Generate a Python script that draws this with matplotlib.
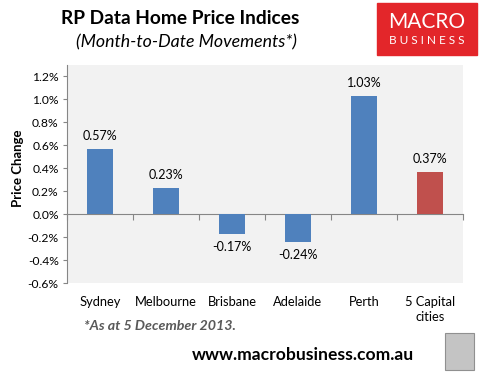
import numpy as np
import matplotlib
matplotlib.use('Agg')
import matplotlib.pyplot as plt
from matplotlib.patches import Rectangle
import matplotlib.transforms as mtransforms

plt.rcParams['font.family'] = ['Lato', 'DejaVu Sans']

cities = ['Sydney', 'Melbourne', 'Brisbane', 'Adelaide', 'Perth', '5 Capital\ncities']
changes = [0.57, 0.23, -0.17, -0.24, 1.03, 0.37]
bar_colors = ['#4F81BD'] * 5 + ['#C0504D']
yticks = [-0.6, -0.4, -0.2, 0.0, 0.2, 0.4, 0.6, 0.8, 1.0, 1.2]

W, H = 482, 373
fig = plt.figure(figsize=(W / 100, H / 100), dpi=100)

def px(x0, y0, x1, y1):
    # pixel box (top-left origin) -> figure fraction rect
    return [x0 / W, 1 - y1 / H, (x1 - x0) / W, (y1 - y0) / H]

ax = fig.add_axes(px(67, 65, 463, 283))
ax.set_facecolor('#F2F2F2')
x = np.arange(len(cities))
ax.bar(x, changes, width=0.4, color=bar_colors, zorder=3)

ax.set_xlim(-0.5, len(cities) - 0.5)
ax.set_ylim(-0.6, 1.3)
ax.set_yticks(yticks)
ax.set_yticklabels([f'{v:.1f}%' for v in yticks], fontsize=8.7)
ax.tick_params(axis='y', length=3, color='#868686', pad=3)

for s in ['top', 'right']:
    ax.spines[s].set_visible(False)
ax.spines['left'].set_color('#868686')
ax.spines['left'].set_bounds(-0.6, 1.3)
ax.spines['bottom'].set_position(('data', 0))
ax.spines['bottom'].set_color('#868686')
ax.set_xticks(np.arange(-0.5, len(cities), 1.0))
ax.set_xticklabels([])
ax.tick_params(axis='x', length=4, color='#868686', direction='out')

trans = mtransforms.blended_transform_factory(ax.transData, ax.transAxes)
for i, c in enumerate(cities):
    ax.text(i, -0.058, c, transform=trans, ha='center', va='top', fontsize=9.3,
            linespacing=1.35)

for i, v in enumerate(changes):
    if v >= 0:
        ax.annotate(f'{v:.2f}%', (i, v), xytext=(0, 5), textcoords='offset points',
                    ha='center', va='bottom', fontsize=9)
    else:
        ax.annotate(f'{v:.2f}%', (i, v), xytext=(0, -5), textcoords='offset points',
                    ha='center', va='top', fontsize=9)

fig.text(18 / W, 1 - 168 / H, 'Price Change', rotation=90, ha='center', va='center',
         fontsize=9.5, fontweight='bold')

fig.text(180 / W, 1 - 18 / H, 'RP Data Home Price Indices', ha='center', va='center',
         fontsize=13.8, fontweight='bold')
fig.text(187 / W, 1 - 42 / H, '(Month-to-Date Movements*)', ha='center', va='center',
         fontsize=12.8, fontstyle='italic')

fig.text(84 / W, 1 - 326 / H, '*As at 5 December 2013.', ha='left', va='center',
         fontsize=10.3, fontstyle='italic', fontweight='bold', color='#595959')
fig.text(303 / W, 1 - 355 / H, 'www.macrobusiness.com.au', ha='center', va='center',
         fontsize=12.6, fontweight='bold')

# logo
fig.patches.append(Rectangle((377 / W, 1 - 55 / H), 100 / W, 52 / H,
                             transform=fig.transFigure, color='#E3262A'))
fig.text(427 / W, 1 - 22 / H, 'MACRO', ha='center', va='center', fontsize=15,
         color='white')
fig.text(427 / W, 1 - 41 / H, 'B U S I N E S S', ha='center', va='center', fontsize=8.5,
         color='white')

# wolf badge
fig.patches.append(Rectangle((445 / W, 1 - 370 / H), 29 / W, 37 / H,
                             transform=fig.transFigure, facecolor='#C4C4C4',
                             edgecolor='#909090', lw=0.8))

fig.savefig('out.png', dpi=100)
